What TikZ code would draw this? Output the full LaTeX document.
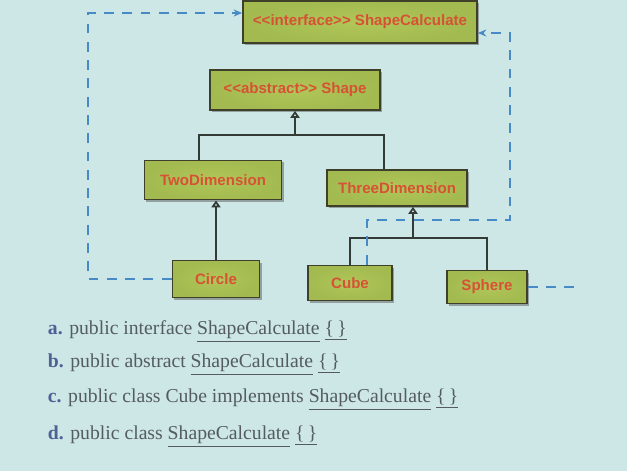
\documentclass[tikz,border=0pt]{standalone}
\usepackage{fontspec}
\setmainfont{Liberation Serif}
\newfontfamily\boxfont{Liberation Sans}
\usepackage{tikz}
\usetikzlibrary{arrows.meta}
\usetikzlibrary{shadows}
\definecolor{screen}{RGB}{204,231,229}
\definecolor{boxgreen}{RGB}{162,186,80}
\definecolor{boxlight}{RGB}{178,198,88}
\definecolor{boxborder}{RGB}{62,64,42}
\definecolor{boxtext}{RGB}{214,82,52}
\definecolor{linegray}{RGB}{52,58,54}
\definecolor{dashblue}{RGB}{72,138,198}
\definecolor{optgray}{RGB}{84,92,98}
\definecolor{optblue}{RGB}{78,96,150}
\tikzset{%
    cls/.style={draw=boxborder, line width=1.2pt, inner color=boxlight, outer color=boxgreen, text=boxtext,
        font={\boxfont\bfseries\fontsize{10.7}{12}\selectfont}, inner sep=0pt,
        drop shadow={shadow xshift=1.5pt, shadow yshift=-1.5pt, fill=black!70, opacity=0.45}},
    tie/.style={line width=1.5pt, draw=linegray},
    gen/.style={tie, -{Triangle[open, length=5pt, width=6.5pt]}},
    realize/.style={-{Stealth[length=6pt, width=5pt]}, line width=1.3pt, draw=dashblue, dash pattern=on 7pt off 6pt},
    opt/.style={anchor=base west, text=optgray, font={\fontsize{14}{16}\selectfont}},
}
\newcommand{\opl}[1]{\textbf{\color{optblue}#1}}
\begin{document}
\begin{tikzpicture}[x=0.025cm, y=-0.025cm]
\fill[screen] (0,0) rectangle (627,471);
\useasboundingbox (0,0) rectangle (627,471);
\node[cls, minimum width=5.85cm, minimum height=1.05cm] (calc) at (360,22) {<<interface>> ShapeCalculate};
\node[cls, minimum width=4.25cm, minimum height=1.0cm] (shape) at (295,90) {<<abstract>> Shape};
\node[cls, minimum width=3.43cm, minimum height=0.98cm] (two) at (213,180) {TwoDimension};
\node[cls, minimum width=3.5cm, minimum height=0.9cm] (three) at (397,188) {ThreeDimension};
\node[cls, minimum width=2.18cm, minimum height=0.92cm] (circle) at (216,279) {Circle};
\node[cls, minimum width=2.1cm, minimum height=0.88cm] (cube) at (350,283) {Cube};
\node[cls, minimum width=2.0cm, minimum height=0.83cm] (sphere) at (487,287) {Sphere};
\coordinate (j1) at (295,135);
\coordinate (j2) at (199,135);
\coordinate (j3) at (384,135);
\coordinate (j4) at (413,238);
\draw[gen] (j1) -- (shape.south);
\draw[tie] (two.north -| j2) -- (j2) -- (j3) -- (three.north -| j3);
\draw[gen] (circle.north) -- (circle.north |- two.south);
\draw[tie] (cube.north) |- (j4) -| (sphere.north);
\draw[gen] (j4) -- (j4 |- three.south);
\coordinate (d1) at (88,13);
\coordinate (d2) at (367,220);
\coordinate (d3) at (510,33);
\coordinate (d4) at (578,292);
\draw[realize] (circle.west) -| (d1) -- (d1 -| calc.west);
\draw[realize] (d2 |- cube.north) -- (d2) -| (d3) -- (d3 -| calc.east);
\draw[realize, -] (sphere.east) -- (sphere.east -| d4);
\node[opt] (qa) at (43,335) {\opl{a.} public interface \underline{ShapeCalculate} \underline{\{\,\}}};
\node[opt] (qb) at (43,368) {\opl{b.} public abstract \underline{ShapeCalculate} \underline{\{\,\}}};
\node[opt] (qc) at (43,403) {\opl{c.} public class Cube implements \underline{ShapeCalculate} \underline{\{\,\}}};
\node[opt] (qd) at (43,440) {\opl{d.} public class \underline{ShapeCalculate} \underline{\{\,\}}};
\end{tikzpicture}
\end{document}
